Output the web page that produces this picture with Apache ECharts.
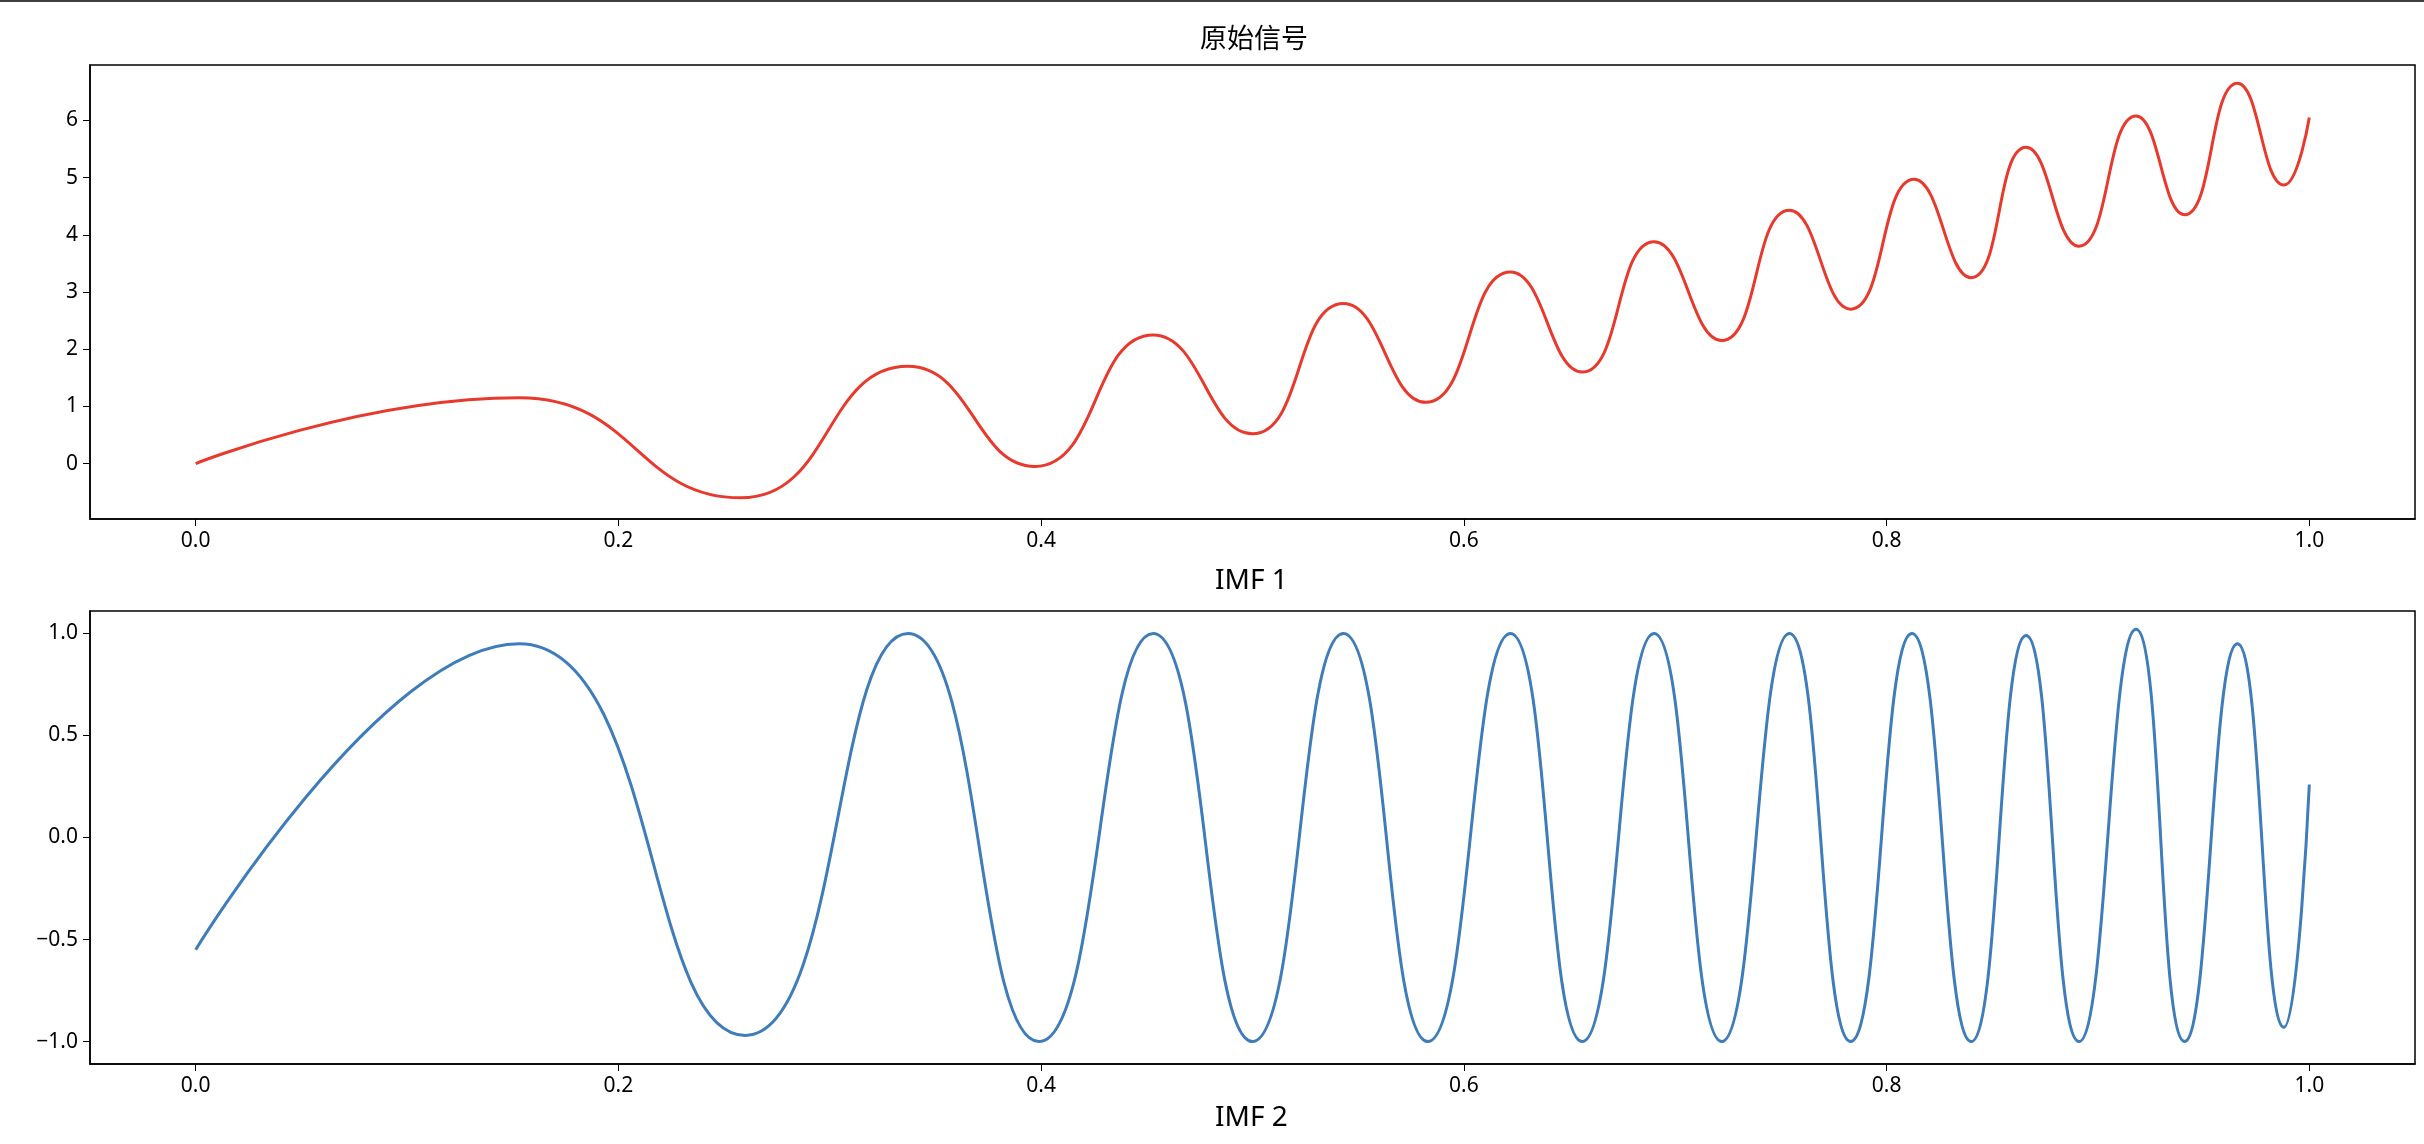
<!DOCTYPE html>
<html><head><meta charset="utf-8">
<script src="https://cdn.jsdelivr.net/npm/echarts@6/dist/echarts.min.js"></script>
<style>html,body{margin:0;padding:0;background:#fff}#c{width:2424px;height:1144px}</style>
</head><body><div id="c"></div>
<script>
const xTicks=[0,0.2,0.4,0.6,0.8,1.0];
const yTicksTop=[0,1,2,3,4,5,6];
const yTicksBot=[-1,-0.5,0,0.5,1];
const origX=[0,0.153,0.258,0.337,0.397,0.453,0.5,0.543,0.582,0.622,0.656,0.69,0.722,0.754,0.783,0.813,0.84,0.866,0.891,0.918,0.941,0.966,0.988,1.0];
const origY=[0,1.15,-0.6,1.7,-0.05,2.25,0.52,2.8,1.07,3.35,1.6,3.88,2.15,4.43,2.7,4.97,3.25,5.53,3.8,6.08,4.35,6.65,4.87,6.05];
const imfX=[0,0.153,0.26,0.337,0.399,0.453,0.5,0.543,0.583,0.622,0.656,0.69,0.722,0.754,0.783,0.812,0.84,0.866,0.891,0.918,0.941,0.966,0.988,1.0];
const imfY=[-0.55,0.95,-0.97,1.0,-1.0,1.0,-1.0,1.0,-1.0,1.0,-1.0,1.0,-1.0,1.0,-1.0,1.0,-1.0,0.99,-1.0,1.02,-1.0,0.95,-0.93,0.26];
const pair=(xs,ys)=>xs.map((x,i)=>[x,ys[i]]);
const fmtX=v=>v.toFixed(1);
const fmtY=v=>(v<0?'\u2212':'')+Math.abs(v).toFixed(1);
const font='"Noto Sans", "Noto Sans CJK SC", sans-serif';
function xa(i){return {type:'value',gridIndex:i,min:-0.05,max:1.05,splitLine:{show:false},axisLine:{show:true,onZero:false,lineStyle:{color:'#000',width:1.5}},
 axisTick:{show:true,length:7,lineStyle:{color:'#000'},customValues:xTicks},
 axisLabel:{customValues:xTicks,formatter:fmtX,fontSize:21,color:'#000',margin:12,fontFamily:font}};}
function ya(i,min,max,ticks,f){return {type:'value',gridIndex:i,min:min,max:max,splitLine:{show:false},axisLine:{show:true,onZero:false,lineStyle:{color:'#000',width:1.5}},
 axisTick:{show:true,length:7,lineStyle:{color:'#000'},customValues:ticks},
 axisLabel:{customValues:ticks,formatter:f,fontSize:21,color:'#000',margin:12,fontFamily:font}};}
const chart=echarts.init(document.getElementById('c'));
chart.setOption({
 animation:false,
 graphic:[{type:'line',shape:{x1:0,y1:1,x2:2424,y2:1},style:{stroke:'#000',lineWidth:1.5}}],
 title:[
  {text:'原始信号',left:1195,top:22,textStyle:{fontSize:27,fontWeight:'normal',color:'#000',fontFamily:font}},
  {text:'IMF 1',left:1210,top:562,textStyle:{fontSize:28,fontWeight:'normal',color:'#000',fontFamily:font}},
  {text:'IMF 2',left:1210,top:1099,textStyle:{fontSize:28,fontWeight:'normal',color:'#000',fontFamily:font}}
 ],
 grid:[
  {left:90,right:9,top:65,height:454,show:true,borderColor:'#000',borderWidth:1.5},
  {left:90,right:9,top:611,height:453,show:true,borderColor:'#000',borderWidth:1.5}
 ],
 xAxis:[xa(0),xa(1)],
 yAxis:[ya(0,-0.97,6.97,yTicksTop,v=>String(v)),ya(1,-1.11,1.11,yTicksBot,fmtY)],
 series:[
  {type:'line',xAxisIndex:0,yAxisIndex:0,data:pair(origX,origY),smooth:0.5,showSymbol:false,lineStyle:{color:'#e8392d',width:3}},
  {type:'line',xAxisIndex:1,yAxisIndex:1,data:pair(imfX,imfY),smooth:0.5,showSymbol:false,lineStyle:{color:'#3e7cba',width:3}}
 ]
});
</script></body></html>
